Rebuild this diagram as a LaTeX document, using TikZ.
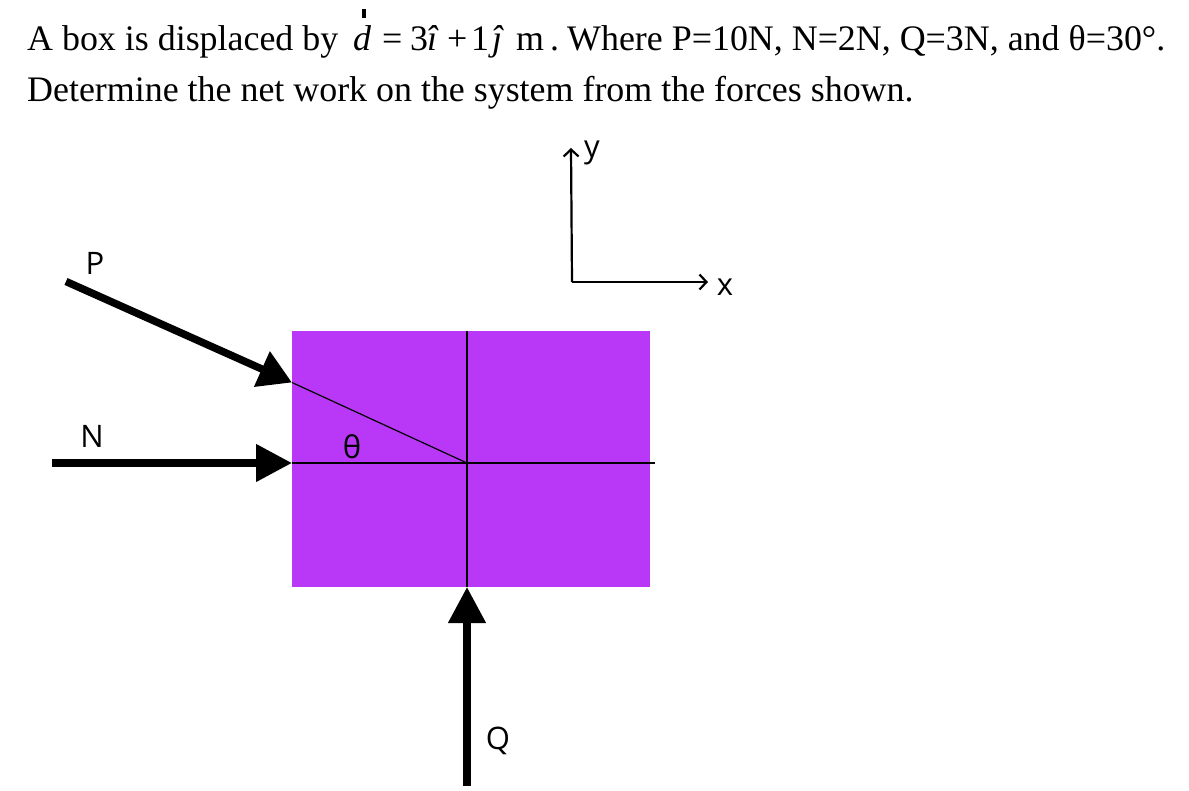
\documentclass[tikz,border=0pt]{standalone}
\usepackage{fontspec}
\setmainfont{Liberation Serif}
\newfontfamily\labelfont{Open Sans}
\usetikzlibrary{arrows.meta}
\definecolor{boxpurple}{HTML}{B938F8}
\tikzset{
  txt/.style={inner sep=0pt,anchor=base west,font=\fontsize{35.9}{36}\selectfont},
  ital/.style={inner sep=0pt,anchor=base west,font=\fontsize{35.9}{36}\selectfont\itshape},
  lab/.style={inner sep=0pt,anchor=center,font=\labelfont\fontsize{31}{31}\selectfont},
  force/.style={line width=7.5pt,-{Triangle[length=36pt,width=36pt]}},
  forcep/.style={line width=7.5pt,-{Triangle[length=33pt,width=37pt]}},
  axis/.style={line width=2.2pt,-{Straight Barb[length=7pt,width=15pt,line width=2.2pt]}},
  thin line/.style={line width=1.2pt,black}
}
\begin{document}
\begin{tikzpicture}[x=1pt,y=-1pt]
\useasboundingbox (0,0) rectangle (1189,791);
% text
\node[txt] (t1) at (27,50.5) {A box is displaced by};
\node[ital] (td) at (353,50.5) {d};
\node[txt] (teq) at (382,50.5) {=};
\node[txt] (t3) at (410,50.5) {3};
\node[ital] (ti) at (427,50.5) {\^{\i}};
\node[txt] (tp) at (447,50.5) {+};
\node[txt] (t1n) at (471,50.5) {1};
\node[ital] (tj) at (492,50.5) {\^{\j}};
\node[txt] (tm) at (516,50.5) {m};
\node[txt] (tdot) at (550,50.5) {.};
\node[txt] (t1b) at (567,50.5) {Where P=10N, N=2N, Q=3N, and θ=30°.};
\node[txt] (t2) at (27,102) {Determine the net work on the system from the forces shown.};
\coordinate (dtop) at (364,9);
\coordinate (dbot) at (364,18);
\draw[line width=4pt] (dtop) -- (dbot);
% box
\node[fill=boxpurple,draw=none,minimum width=358pt,minimum height=256pt,inner sep=0pt] (box) at (471,459) {};
\coordinate (ctr) at (467,463);
\coordinate (vtop) at (467,331);
\coordinate (vbot) at (467,587);
\coordinate (hl) at (292,463);
\coordinate (hr) at (655,463);
\coordinate (dl) at (292,382.5);
\draw[thin line] (vtop) -- (vbot);
\draw[thin line] (hl) -- (hr);
\draw[thin line] (dl) -- (ctr);
% forces
\coordinate (ps) at (66,281.5);
\coordinate (ns) at (52,463);
\coordinate (qs) at (467,786);
\draw[forcep] (ps) -- (dl);
\draw[force] (ns) -- (hl);
\draw[force] (qs) -- (vbot);
% axes
\coordinate (o) at (572,282);
\coordinate (ya) at (571,148);
\coordinate (xa) at (708,282);
\draw[axis] (o) -- (ya);
\draw[axis] (o) -- (xa);
% labels
\node[lab] (lp) at (95,263) {P};
\node[lab] (ln) at (92,436) {N};
\node[lab] (lt) at (352,447) {θ};
\node[lab] (lq) at (498,741) {Q};
\node[lab] (ly) at (592,153) {y};
\node[lab] (lx) at (725,287) {x};
\end{tikzpicture}
\end{document}
